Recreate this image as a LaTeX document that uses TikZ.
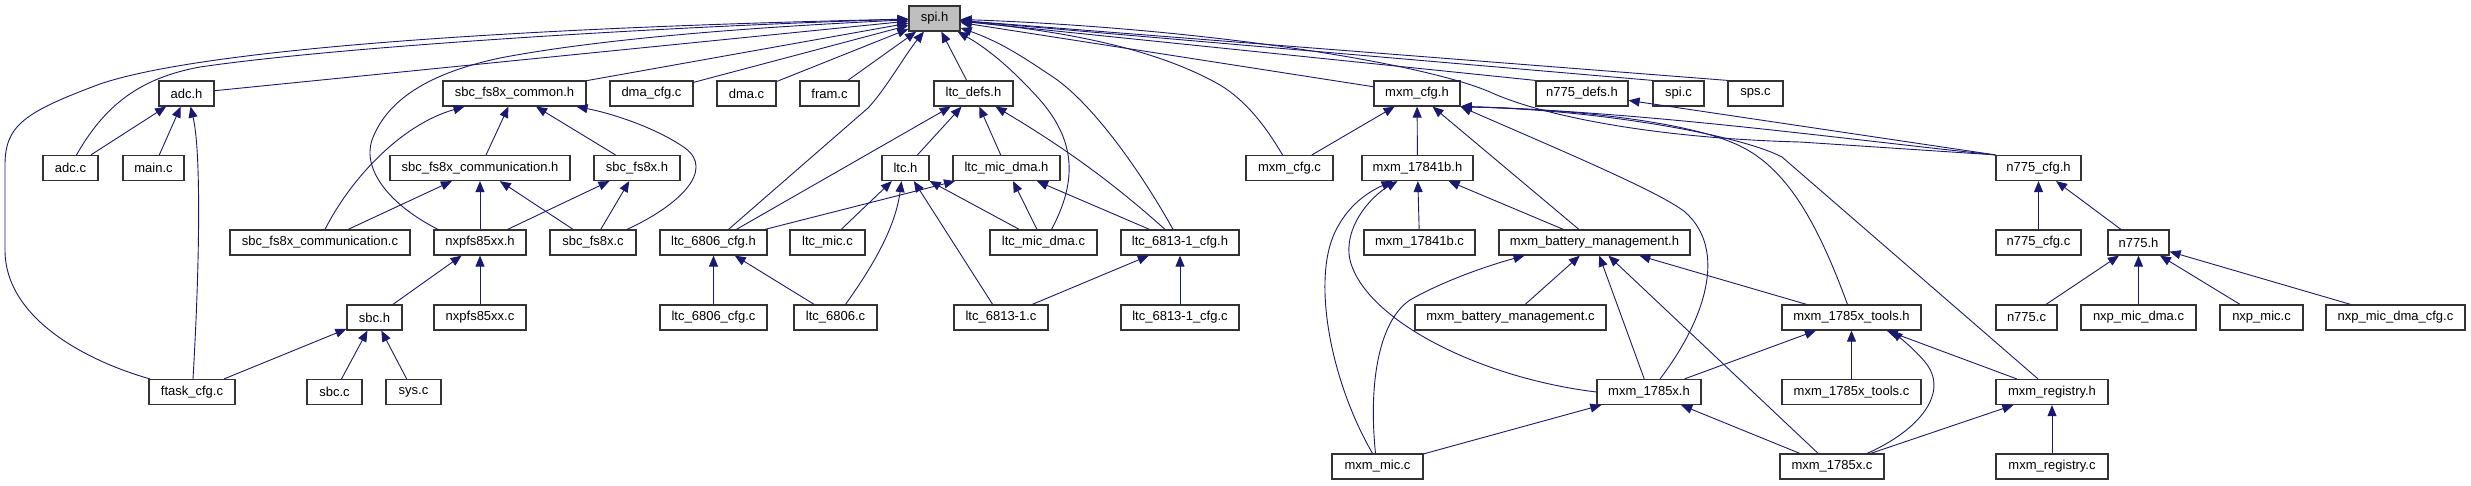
\documentclass[tikz,border=0pt]{standalone}
\usepackage{fontspec}
\setmainfont{Liberation Sans}
\usetikzlibrary{arrows.meta}
\definecolor{bd}{HTML}{333333}
\definecolor{eg}{HTML}{191970}
\definecolor{sf}{HTML}{BFBFBF}
\tikzset{
  box/.style={draw=bd, line width=1.2pt, fill=white, inner sep=0pt, minimum height=25pt, font=\fontsize{13}{15}\selectfont},
  e/.style={draw=eg, line width=0.9pt, -{Triangle[length=11pt,width=9pt]}},
}
\newcommand\nd[6][]{\node[box,#1, minimum width={#4pt-#3pt}] (#2) at ({(#3+#4)/2},#5) {#6};}
\begin{document}
\begin{tikzpicture}[x=1pt,y=-1pt]
\useasboundingbox (0,0) rectangle (2471,485);
% row 0
\nd[fill=sf]{spi}{909}{960}{18.5}{spi.h}
% row 1
\nd{adch}{159}{214}{93.5}{adc.h}
\nd{common}{443}{586}{93.5}{sbc\_fs8x\_common.h}
\nd{dmacfg}{610}{693}{93.5}{dma\_cfg.c}
\nd{dmac}{717}{776}{93.5}{dma.c}
\nd{fram}{800}{859}{93.5}{fram.c}
\nd{ltcdefs}{934}{1013}{93.5}{ltc\_defs.h}
\nd{mxmcfgh}{1374}{1460}{93.5}{mxm\_cfg.h}
\nd{n775defs}{1536}{1628}{93.5}{n775\_defs.h}
\nd{spic}{1653}{1704}{93.5}{spi.c}
\nd{spsc}{1728}{1783}{93.5}{sps.c}
% row 2
\nd{adcc}{43}{98}{168}{adc.c}
\nd{mainc}{123}{184}{168}{main.c}
\nd{commh}{390}{570}{168}{sbc\_fs8x\_communication.h}
\nd{fs8xh}{594}{680}{168}{sbc\_fs8x.h}
\nd{ltch}{882}{929}{168}{ltc.h}
\nd{micdmah}{953}{1060}{168}{ltc\_mic\_dma.h}
\nd{mxmcfgc}{1246}{1333}{168}{mxm\_cfg.c}
\nd{m17841bh}{1362}{1473}{168}{mxm\_17841b.h}
\nd{n775cfgh}{1996}{2081}{168}{n775\_cfg.h}
% row 3
\nd{commc}{230}{410}{242.5}{sbc\_fs8x\_communication.c}
\nd{nxph}{434}{526}{242.5}{nxpfs85xx.h}
\nd{fs8xc}{550}{636}{242.5}{sbc\_fs8x.c}
\nd{c6806cfgh}{660}{767}{242.5}{ltc\_6806\_cfg.h}
\nd{ltcmicc}{790}{865}{242.5}{ltc\_mic.c}
\nd{micdmac}{990}{1097}{242.5}{ltc\_mic\_dma.c}
\nd{c6813cfgh}{1121}{1239}{242.5}{ltc\_6813-1\_cfg.h}
\nd{m17841bc}{1364}{1475}{242.5}{mxm\_17841b.c}
\nd{bmh}{1499}{1690}{242.5}{mxm\_battery\_management.h}
\nd{n775cfgc}{1996}{2081}{242.5}{n775\_cfg.c}
\nd{n775h}{2108}{2169}{242.5}{n775.h}
% row 4
\nd{sbch}{347}{402}{317.5}{sbc.h}
\nd{nxpc}{434}{526}{317.5}{nxpfs85xx.c}
\nd{c6806cfgc}{660}{767}{317.5}{ltc\_6806\_cfg.c}
\nd{c6806c}{794}{877}{317.5}{ltc\_6806.c}
\nd{c6813c}{954}{1048}{317.5}{ltc\_6813-1.c}
\nd{c6813cfgc}{1121}{1239}{317.5}{ltc\_6813-1\_cfg.c}
\nd{bmc}{1415}{1606}{317.5}{mxm\_battery\_management.c}
\nd{toolsh}{1782}{1921}{317.5}{mxm\_1785x\_tools.h}
\nd{n775c}{1996}{2057}{317.5}{n775.c}
\nd{nxpmicdmac}{2081}{2196}{317.5}{nxp\_mic\_dma.c}
\nd{nxpmicc}{2220}{2303}{317.5}{nxp\_mic.c}
\nd{nxpmicdmacfgc}{2326}{2465}{317.5}{nxp\_mic\_dma\_cfg.c}
% row 5
\nd{ftask}{149}{235}{392}{ftask\_cfg.c}
\nd{sbcc}{307}{362}{392}{sbc.c}
\nd{sysc}{386}{441}{392}{sys.c}
\nd{m1785xh}{1597}{1701}{392}{mxm\_1785x.h}
\nd{toolsc}{1782}{1921}{392}{mxm\_1785x\_tools.c}
\nd{regh}{1996}{2108}{392}{mxm\_registry.h}
% row 6
\nd{mmicc}{1332}{1423}{466.5}{mxm\_mic.c}
\nd{m1785xc}{1780}{1884}{466.5}{mxm\_1785x.c}
\nd{regc}{1996}{2108}{466.5}{mxm\_registry.c}

% ---- edges into spi.h
\draw[e] (adch) -- (spi);
\draw[e] ([xshift=6pt]adcc.north) .. controls (105,105) and (140,78) .. (200,67) .. controls (350,45) and (700,25) .. (spi);
\draw[e] ([xshift=-42pt]ftask.north) .. controls (90,362) and (5,320) .. (5,250) -- (5,165) .. controls (5,125) and (25,112) .. (100,84) .. controls (200,50) and (500,28) .. (spi);
\draw[e] (common) -- (spi);
\draw[e] (dmacfg) -- (spi);
\draw[e] (dmac) -- (spi);
\draw[e] (fram) -- (spi);
\draw[e] ([xshift=-42pt]nxph.north) .. controls (390,205) and (362,170) .. (372,140) .. controls (385,105) and (420,75) .. (500,58) .. controls (620,35) and (800,25) .. (spi);
\draw[e] ([xshift=15pt]c6806cfgh.north) -- (868,108) .. controls (885,90) and (905,55) .. (spi);
\draw[e] (ltcdefs) -- (spi);
\draw[e] ([xshift=8pt]micdmac.north) .. controls (1078,180) and (1075,140) .. (1040,100) .. controls (1015,72) and (990,50) .. (spi);
\draw[e] ([xshift=-7pt]c6813cfgh.north) .. controls (1140,170) and (1090,100) .. (1050,75) .. controls (1020,55) and (1000,42) .. (spi);
\draw[e] (mxmcfgh) -- (spi);
\draw[e] ([xshift=-7pt]mxmcfgc.north) .. controls (1265,125) and (1245,100) .. (1220,85) .. controls (1150,45) and (1050,30) .. (spi);
\draw[e] (n775defs.north west) -- (spi);
\draw[e] (spic.north west) -- (spi);
\draw[e] (spsc.north west) -- (spi);
\draw[e] (n775cfgh.north west) -- (1800,142) .. controls (1650,138) and (1540,115) .. (1490,92) .. controls (1420,62) and (1200,28) .. (spi);

% ---- left part
\draw[e] (adcc) -- (adch);
\draw[e] (mainc) -- (adch);
\draw[e] ([xshift=1pt]ftask.north) .. controls (200,260) and (201,150) .. ([xshift=4pt]adch.south);
\draw[e] (ftask) -- (sbch);
\draw[e] (sbcc) -- (sbch);
\draw[e] (sysc) -- (sbch);
\draw[e] (sbch) -- (nxph);
\draw[e] (nxpc) -- (nxph);
\draw[e] ([xshift=5pt]commc.north) .. controls (350,180) and (400,125) .. ([xshift=-50pt]common.south);
\draw[e] (commc) -- (commh);
\draw[e] (commh) -- (common);
\draw[e] (fs8xh) -- (common);
\draw[e] ([xshift=34pt]fs8xc.north) .. controls (680,205) and (715,170) .. (685,148) .. controls (655,127) and (610,113) .. ([xshift=62pt]common.south);
\draw[e] (nxph) -- (commh);
\draw[e] (nxph) -- (fs8xh);
\draw[e] (fs8xc) -- (commh);
\draw[e] (fs8xc) -- (fs8xh);

% ---- ltc part
\draw[e] (c6806cfgc) -- (c6806cfgh);
\draw[e] (c6806c) -- (c6806cfgh);
\draw[e] (c6806cfgh) -- (ltcdefs);
\draw[e] (c6806cfgh) -- (micdmah);
\draw[e] (ltch) -- (ltcdefs);
\draw[e] (micdmah) -- (ltcdefs);
\draw[e] ([xshift=-15pt]c6813cfgh.north) .. controls (1110,180) and (1060,145) .. (ltcdefs);
\draw[e] (ltcmicc) -- (ltch);
\draw[e] ([xshift=10pt]c6806c.north) .. controls (870,270) and (895,230) .. ([xshift=-4pt]ltch.south);
\draw[e] (c6813c) -- (ltch);
\draw[e] (micdmac) -- (ltch);
\draw[e] (micdmac) -- (micdmah);
\draw[e] (c6813cfgh) -- (micdmah);
\draw[e] (c6813c) -- (c6813cfgh);
\draw[e] (c6813cfgc) -- (c6813cfgh);

% ---- mxm part
\draw[e] (mxmcfgc) -- (mxmcfgh);
\draw[e] (m17841bh) -- (mxmcfgh);
\draw[e] (bmh) -- (mxmcfgh);
\draw[e] (m17841bc) -- (m17841bh);
\draw[e] (bmh) -- (m17841bh);
\draw[e] ([xshift=-5pt]mmicc.north) .. controls (1330,380) and (1312,280) .. (1335,232) .. controls (1348,205) and (1368,192) .. ([xshift=-25pt]m17841bh.south);
\draw[e] (m1785xh.west) .. controls (1480,378) and (1365,320) .. (1350,260) .. controls (1343,228) and (1370,197) .. ([xshift=-20pt]m17841bh.south);
\draw[e] ([xshift=-2pt]mmicc.north) .. controls (1368,380) and (1380,320) .. (1410,300) .. controls (1445,280) and (1490,265) .. ([xshift=-70pt]bmh.south);
\draw[e] (bmc) -- (bmh);
\draw[e] (m1785xh) -- (bmh);
\draw[e] (m1785xc) -- (bmh);
\draw[e] (toolsh) -- (bmh);
\draw[e] (m1785xh) -- (toolsh);
\draw[e] (toolsc) -- (toolsh);
\draw[e] (regh) -- (toolsh);
\draw[e] ([xshift=35pt]m1785xc.north) .. controls (1920,430) and (1950,392) .. (1925,362) .. controls (1915,350) and (1905,342) .. ([xshift=40pt]toolsh.south);
\draw[e] (m1785xc) -- (m1785xh);
\draw[e] (m1785xc) -- (regh);
\draw[e] (mmicc) -- (m1785xh);
\draw[e] (regc) -- (regh);
\draw[e] ([xshift=11pt]m1785xh.north) .. controls (1705,320) and (1728,250) .. (1685,212) .. controls (1660,192) and (1560,150) .. (mxmcfgh.south east);
\draw[e] ([xshift=-4pt]toolsh.north) .. controls (1820,230) and (1790,170) .. (1740,146) .. controls (1700,126) and (1600,110) .. (mxmcfgh.south east);
\draw[e] ([xshift=-14pt]regh.north) -- (1782,157) .. controls (1740,135) and (1600,110) .. (mxmcfgh.south east);
\draw[e] (n775cfgh.north west) .. controls (1850,140) and (1650,112) .. (mxmcfgh.south east);

% ---- n775 part
\draw[e] (n775cfgh.north west) -- (n775defs);
\draw[e] (n775cfgc) -- (n775cfgh);
\draw[e] (n775h) -- (n775cfgh);
\draw[e] (n775c) -- (n775h);
\draw[e] (nxpmicdmac) -- (n775h);
\draw[e] (nxpmicc) -- (n775h);
\draw[e] (nxpmicdmacfgc) -- (n775h);
\end{tikzpicture}
\end{document}
